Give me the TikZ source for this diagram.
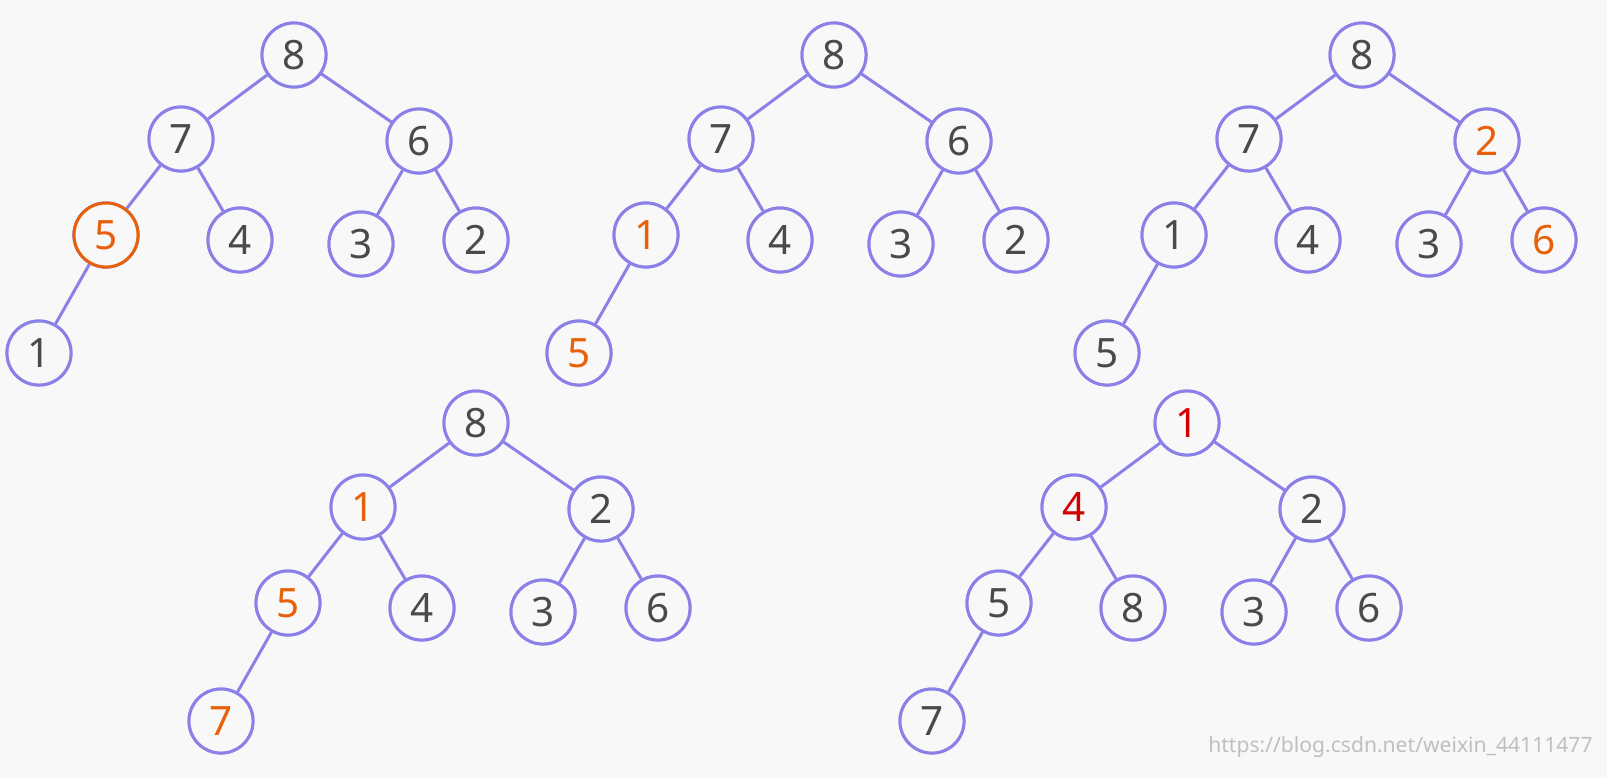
\documentclass[tikz,border=0pt]{standalone}
\usepackage{fontspec}
\setmainfont{Noto Sans}
\definecolor{edge}{HTML}{8A80E8}
\definecolor{org}{HTML}{E8600A}
\definecolor{rd}{HTML}{D40000}
\definecolor{txt}{HTML}{4A4A4A}
\definecolor{bg}{HTML}{F8F8F8}
\begin{document}
\begin{tikzpicture}[x=0.01cm,y=-0.01cm,
  nd/.style={circle,draw=edge,line width=0.85pt,fill=bg,minimum size=0.64cm,inner sep=0pt,text=txt,font=\fontsize{11.5}{11.5}\selectfont},
  o/.style={text=org},r/.style={text=rd},
  ed/.style={draw=edge,line width=0.85pt}]
\fill[bg] (0,0) rectangle (1607,778);
\useasboundingbox (0,0) rectangle (1607,778);
\newcommand{\tree}[9]{%
 \begin{scope}[shift={(#1)}]
 \node[nd,#2] (a) at (294,55) {}; \node[nd] (b) at (181,139) {};
 \node[nd] (c) at (419,141) {}; \node[nd] (d) at (106,235) {};
 \node[nd] (e) at (240,240) {}; \node[nd] (f) at (361,244) {};
 \node[nd] (g) at (476,240) {}; \node[nd] (h) at (39,353) {};
 \draw[ed] (a)--(b) (a)--(c) (b)--(d) (b)--(e) (c)--(f) (c)--(g) (d)--(h);
 \node[nd] at (a) {#3}; \node[nd] at (b) {#4}; \node[nd] at (c) {#5};
 \node[nd] at (d) {#6}; \node[nd] at (e) {#7}; \node[nd] at (f) {#8};
 \node[nd] at (g) {#9};
 \end{scope}}
\newcommand{\leaf}[3]{\node[nd,#1] at (#2) {#3};}
% tree 1
\tree{0,0}{}{8}{7}{6}{\textcolor{org}{5}}{4}{3}{2}
\node[nd,draw=org] at (106,235) {\textcolor{org}{5}};
\leaf{}{39,353}{1}
% tree 2
\tree{540,0}{}{8}{7}{6}{\textcolor{org}{1}}{4}{3}{2}
\leaf{o}{579,353}{5}
% tree 3
\tree{1068,0}{}{8}{7}{\textcolor{org}{2}}{1}{4}{3}{\textcolor{org}{6}}
\leaf{}{1107,353}{5}
% tree 4
\tree{182,368}{}{8}{\textcolor{org}{1}}{2}{\textcolor{org}{5}}{4}{3}{6}
\leaf{o}{221,721}{7}
% tree 5
\tree{893,368}{}{\textcolor{rd}{1}}{\textcolor{rd}{4}}{2}{5}{8}{3}{6}
\leaf{}{932,721}{7}
\node[anchor=south east,text=white!75!black,font=\fontsize{6}{6}\selectfont] (wm) at (1605,770) {https://blog.csdn.net/weixin\_44111477};
\end{tikzpicture}
\end{document}
